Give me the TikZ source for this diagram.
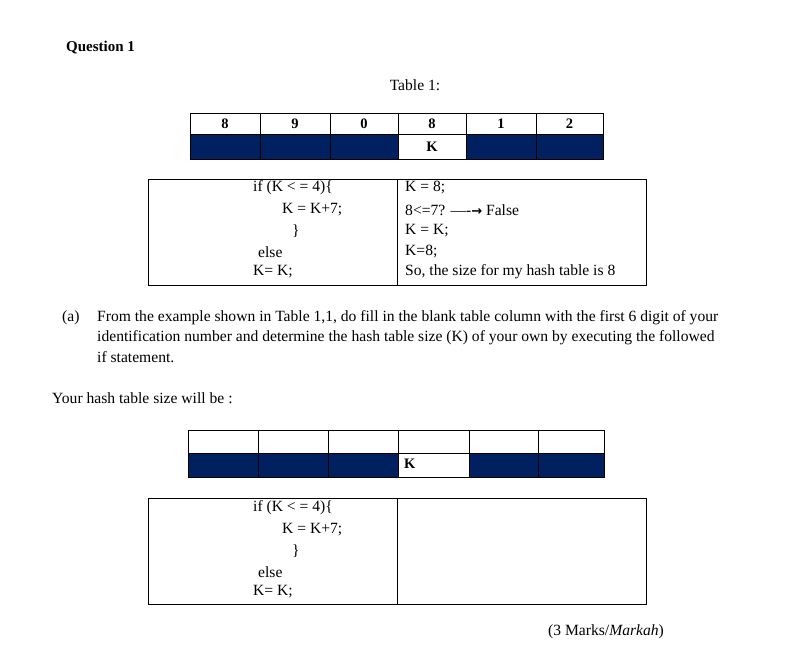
\documentclass[tikz,border=0pt]{standalone}
\usepackage{fontspec}
\setmainfont{Liberation Serif}
\newfontfamily\symf{DejaVu Sans}
\definecolor{navy}{RGB}{0,32,96}
\begin{document}
\begin{tikzpicture}[x=1pt,y=-1pt,
  txt/.style={anchor=west,inner sep=0pt,font=\fontsize{15.6}{18}\selectfont},
  ctxt/.style={inner sep=0pt,font=\fontsize{15.6}{18}\selectfont},
  btxt/.style={inner sep=0pt,font=\fontsize{14.5}{16}\selectfont\bfseries},
  cell/.style={draw=black,line width=0.8pt},
  dark/.style={fill=navy,draw=black,line width=0.8pt}]
\useasboundingbox (0,0) rectangle (796,653);
\node[txt,font=\fontsize{15}{18}\selectfont\bfseries] (q) at (66,48) {Question 1};
\node[ctxt] (t1) at (415,85) {Table 1:};
% table 1
\foreach \a/\b/\v [count=\i] in {190/260/8,260/330/9,330/398/0,398/466/8,466/536/1,536/603/2}{
  \draw[cell,fill=white] (\a,113) rectangle (\b,134);
  \node[btxt] (ta\i) at ({(\a+\b)/2},123.5) {\v};
}
\foreach \a/\b [count=\i] in {190/260,260/330,330/398,466/536,536/603}{
  \draw[dark] (\a,134) rectangle (\b,159);
}
\draw[cell,fill=white] (398,134) rectangle (466,159);
\node[btxt] (tk) at (432,146.5) {K};
% code box 1
\draw[line width=0.8pt] (148,179) rectangle (646,285);
\draw[line width=0.8pt] (397,179) -- (397,285);
\node[txt] (c1) at (253,188) {if (K < = 4)\{};
\node[txt] (c2) at (282,210) {K = K+7;};
\node[txt] (c3) at (292,231) {\}};
\node[txt] (c4) at (258,252) {else};
\node[txt] (c5) at (253,272) {K= K;};
\node[txt] (r1) at (405,188) {K = 8;};
\node[txt] (r2) at (405,210) {8<=7? ----{\symf\fontsize{13}{14}\selectfont\bfseries →} False};
\node[txt] (r3) at (405,231) {K = K;};
\node[txt] (r4) at (405,252) {K=8;};
\node[txt] (r5) at (405,272) {So, the size for my hash table is 8};
% paragraph
\node[txt] (pa) at (62,318) {(a)};
\node[txt] (p1) at (97,318) {From the example shown in Table 1,1, do fill in the blank table column with the first 6 digit of your};
\node[txt] (p2) at (97,338) {identification number and determine the hash table size (K) of your own by executing the followed};
\node[txt] (p3) at (97,357) {if statement.};
\node[txt] (y) at (52,398) {Your hash table size will be :};
% table 2
\foreach \a/\b [count=\i] in {188/258,258/328,328/398,398/469,469/538,538/604}{
  \draw[cell,fill=white] (\a,430) rectangle (\b,453);
}
\foreach \a/\b in {188/258,258/328,328/398,469/538,538/604}{
  \draw[dark] (\a,453) rectangle (\b,477);
}
\draw[cell,fill=white] (398,453) rectangle (469,477);
\node[btxt,anchor=west] (tk2) at (404,464) {K};
% code box 2
\draw[line width=0.8pt] (148,498) rectangle (646,604);
\draw[line width=0.8pt] (397,498) -- (397,604);
\node[txt] (d1) at (253,508) {if (K < = 4)\{};
\node[txt] (d2) at (282,530) {K = K+7;};
\node[txt] (d3) at (292,551) {\}};
\node[txt] (d4) at (258,572) {else};
\node[txt] (d5) at (253,592) {K= K;};
\node[txt] (m) at (548,632) {(3 Marks/\textit{Markah})};
\end{tikzpicture}
\end{document}
